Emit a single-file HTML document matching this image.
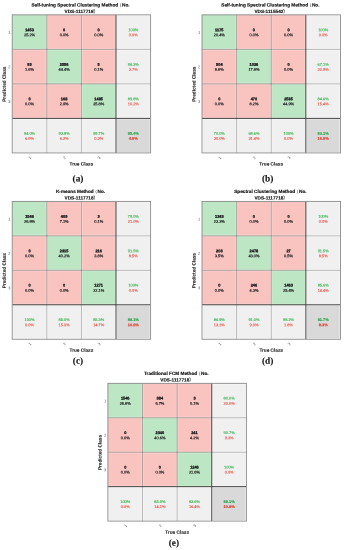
<!DOCTYPE html>
<html><head><meta charset="utf-8"><title>Confusion matrices</title>
<style>
html,body{margin:0;padding:0;background:#fff;}
svg{display:block}
text{font-family:"Liberation Sans","Noto Sans CJK SC",sans-serif;fill:#111;text-anchor:middle;text-rendering:geometricPrecision}
.t{font-size:4.7px;font-weight:bold;stroke:#111;stroke-width:0.15px}
.fp{font-size:3.9px;font-weight:normal;stroke-width:0.05px}
.n{font-size:3.9px;font-weight:bold;stroke:#111;stroke-width:0.25px}
.p{font-size:3.9px;stroke:#111;stroke-width:0.16px}
.k{font-size:4px;fill:#555}
.a{font-size:4.7px;font-weight:bold;fill:#222;stroke:#222;stroke-width:0.1px}
.l{font-family:"Liberation Serif",serif;font-size:9.4px;font-weight:bold;fill:#111;stroke:#111;stroke-width:.1px}
</style></head><body>
<svg width="344" height="550" viewBox="0 0 344 550">
<rect width="344" height="550" fill="#fff"/>
<g>
<text class="t" transform="translate(80.55,6.45) matrix(1,.001,0,1,0,0)">Self-tuning Spectral Clustering Method<tspan class="fp" dx="-0.6">（</tspan><tspan dx="0.6">No.</tspan></text>
<text class="t" transform="translate(81.4,12.9) matrix(1,.001,0,1,0,0)">VDS-1117718<tspan class="fp" style="font-size:4.7px">）</tspan></text>
<rect x="12.2" y="14.85" width="138.4" height="138.05" fill="#fff"/>
<rect x="12.2" y="14.85" width="34.6" height="34.51" fill="#bce6c4"/>
<rect x="46.8" y="14.85" width="34.6" height="34.51" fill="#f9c4c0"/>
<rect x="81.4" y="14.85" width="34.6" height="34.51" fill="#f9c4c0"/>
<rect x="116.85" y="15.7" width="32.9" height="32.81" fill="#f0f0f0"/>
<rect x="12.2" y="49.36" width="34.6" height="34.51" fill="#f9c4c0"/>
<rect x="46.8" y="49.36" width="34.6" height="34.51" fill="#bce6c4"/>
<rect x="81.4" y="49.36" width="34.6" height="34.51" fill="#f9c4c0"/>
<rect x="116.85" y="50.21" width="32.9" height="32.81" fill="#f0f0f0"/>
<rect x="12.2" y="83.88" width="34.6" height="34.51" fill="#f9c4c0"/>
<rect x="46.8" y="83.88" width="34.6" height="34.51" fill="#f9c4c0"/>
<rect x="81.4" y="83.88" width="34.6" height="34.51" fill="#bce6c4"/>
<rect x="116.85" y="84.72" width="32.9" height="32.81" fill="#f0f0f0"/>
<rect x="13.05" y="119.24" width="32.9" height="32.81" fill="#f0f0f0"/>
<rect x="47.65" y="119.24" width="32.9" height="32.81" fill="#f0f0f0"/>
<rect x="82.25" y="119.24" width="32.9" height="32.81" fill="#f0f0f0"/>
<rect x="116.85" y="119.24" width="32.9" height="32.81" fill="#d9d9d9"/>
<path d="M46.8 14.85V118.39M12.2 49.36H116" stroke="#fff" stroke-opacity=".22" stroke-width="2.6" fill="none"/>
<path d="M81.4 14.85V118.39M12.2 83.88H116" stroke="#fff" stroke-opacity=".22" stroke-width="2.6" fill="none"/>
<path d="M116 14.85V118.39M12.2 118.39H116" stroke="#fff" stroke-opacity=".22" stroke-width="2.6" fill="none"/>
<line x1="46.8" y1="14.85" x2="46.8" y2="152.9" stroke="#505050" stroke-width="0.42"/>
<line x1="12.2" y1="49.36" x2="150.6" y2="49.36" stroke="#505050" stroke-width="0.42"/>
<line x1="81.4" y1="14.85" x2="81.4" y2="152.9" stroke="#505050" stroke-width="0.42"/>
<line x1="12.2" y1="83.88" x2="150.6" y2="83.88" stroke="#505050" stroke-width="0.42"/>
<line x1="116" y1="14.85" x2="116" y2="152.9" stroke="#404040" stroke-width="1"/>
<line x1="12.2" y1="118.39" x2="150.6" y2="118.39" stroke="#404040" stroke-width="1"/>
<rect x="12.2" y="14.85" width="138.4" height="138.05" fill="none" stroke="#8a8a8a" stroke-width="0.9"/>
<text class="n" transform="translate(29.5,31.16) matrix(1,.001,0,1,0,0)">1453</text>
<text class="p" transform="translate(29.5,36.26) matrix(1,.001,0,1,0,0)">25.2%</text>
<text class="n" transform="translate(64.1,31.16) matrix(1,.001,0,1,0,0)">0</text>
<text class="p" transform="translate(64.1,36.26) matrix(1,.001,0,1,0,0)">0.0%</text>
<text class="n" transform="translate(98.7,31.16) matrix(1,.001,0,1,0,0)">0</text>
<text class="p" transform="translate(98.7,36.26) matrix(1,.001,0,1,0,0)">0.0%</text>
<text class="p" transform="translate(133.3,31.16) matrix(1,.001,0,1,0,0)" style="fill:#22ac3c;stroke:#22ac3c;stroke-width:.08px">100%</text>
<text class="p" transform="translate(133.3,36.26) matrix(1,.001,0,1,0,0)" style="fill:#e23d2d;stroke:#e23d2d;stroke-width:.08px">0.0%</text>
<text class="n" transform="translate(29.5,65.67) matrix(1,.001,0,1,0,0)">93</text>
<text class="p" transform="translate(29.5,70.77) matrix(1,.001,0,1,0,0)">1.6%</text>
<text class="n" transform="translate(64.1,65.67) matrix(1,.001,0,1,0,0)">2556</text>
<text class="p" transform="translate(64.1,70.77) matrix(1,.001,0,1,0,0)">44.4%</text>
<text class="n" transform="translate(98.7,65.67) matrix(1,.001,0,1,0,0)">5</text>
<text class="p" transform="translate(98.7,70.77) matrix(1,.001,0,1,0,0)">0.1%</text>
<text class="p" transform="translate(133.3,65.67) matrix(1,.001,0,1,0,0)" style="fill:#22ac3c;stroke:#22ac3c;stroke-width:.08px">96.3%</text>
<text class="p" transform="translate(133.3,70.77) matrix(1,.001,0,1,0,0)" style="fill:#e23d2d;stroke:#e23d2d;stroke-width:.08px">3.7%</text>
<text class="n" transform="translate(29.5,100.18) matrix(1,.001,0,1,0,0)">0</text>
<text class="p" transform="translate(29.5,105.28) matrix(1,.001,0,1,0,0)">0.0%</text>
<text class="n" transform="translate(64.1,100.18) matrix(1,.001,0,1,0,0)">168</text>
<text class="p" transform="translate(64.1,105.28) matrix(1,.001,0,1,0,0)">2.9%</text>
<text class="n" transform="translate(98.7,100.18) matrix(1,.001,0,1,0,0)">1485</text>
<text class="p" transform="translate(98.7,105.28) matrix(1,.001,0,1,0,0)">25.8%</text>
<text class="p" transform="translate(133.3,100.18) matrix(1,.001,0,1,0,0)" style="fill:#22ac3c;stroke:#22ac3c;stroke-width:.08px">89.8%</text>
<text class="p" transform="translate(133.3,105.28) matrix(1,.001,0,1,0,0)" style="fill:#e23d2d;stroke:#e23d2d;stroke-width:.08px">10.2%</text>
<text class="p" transform="translate(29.5,134.69) matrix(1,.001,0,1,0,0)" style="fill:#22ac3c;stroke:#22ac3c;stroke-width:.08px">94.0%</text>
<text class="p" transform="translate(29.5,139.79) matrix(1,.001,0,1,0,0)" style="fill:#e23d2d;stroke:#e23d2d;stroke-width:.08px">6.0%</text>
<text class="p" transform="translate(64.1,134.69) matrix(1,.001,0,1,0,0)" style="fill:#22ac3c;stroke:#22ac3c;stroke-width:.08px">93.8%</text>
<text class="p" transform="translate(64.1,139.79) matrix(1,.001,0,1,0,0)" style="fill:#e23d2d;stroke:#e23d2d;stroke-width:.08px">6.2%</text>
<text class="p" transform="translate(98.7,134.69) matrix(1,.001,0,1,0,0)" style="fill:#22ac3c;stroke:#22ac3c;stroke-width:.08px">99.7%</text>
<text class="p" transform="translate(98.7,139.79) matrix(1,.001,0,1,0,0)" style="fill:#e23d2d;stroke:#e23d2d;stroke-width:.08px">0.3%</text>
<text class="n" transform="translate(133.3,134.69) matrix(1,.001,0,1,0,0)" style="fill:#259f44;stroke:#259f44;stroke-width:.1px">95.4%</text>
<text class="n" transform="translate(133.3,139.79) matrix(1,.001,0,1,0,0)" style="fill:#e03222;stroke:#e03222;stroke-width:.1px">4.6%</text>
<text class="k" transform="translate(9.3,33.86) matrix(1,.001,0,1,0,0)">1</text>
<text class="k" transform="translate(31.7,157.8) rotate(-45) matrix(1,.001,0,1,0,0)" style="text-anchor:end">1</text>
<text class="k" transform="translate(9.3,68.37) matrix(1,.001,0,1,0,0)">2</text>
<text class="k" transform="translate(66.3,157.8) rotate(-45) matrix(1,.001,0,1,0,0)" style="text-anchor:end">2</text>
<text class="k" transform="translate(9.3,102.88) matrix(1,.001,0,1,0,0)">3</text>
<text class="k" transform="translate(100.9,157.8) rotate(-45) matrix(1,.001,0,1,0,0)" style="text-anchor:end">3</text>
<text class="a" transform="translate(81.4,165.5) matrix(1,.001,0,1,0,0)">True Class</text>
<text class="a" transform="translate(5.8,84.17) rotate(-90) matrix(1,.001,0,1,0,0)">Predicted Class</text>
<text class="l" transform="translate(78,181.6) matrix(1,.001,0,1,0,0)">(a)</text>
</g>
<g>
<text class="t" transform="translate(270.38,6.45) matrix(1,.001,0,1,0,0)">Self-tuning Spectral Clustering Method<tspan class="fp" dx="-0.6">（</tspan><tspan dx="0.6">No.</tspan></text>
<text class="t" transform="translate(271.23,12.9) matrix(1,.001,0,1,0,0)">VDS-1115542<tspan class="fp" style="font-size:4.7px">）</tspan></text>
<rect x="202" y="14.85" width="138.45" height="138.05" fill="#fff"/>
<rect x="202" y="14.85" width="34.61" height="34.51" fill="#bce6c4"/>
<rect x="236.61" y="14.85" width="34.61" height="34.51" fill="#f9c4c0"/>
<rect x="271.23" y="14.85" width="34.61" height="34.51" fill="#f9c4c0"/>
<rect x="306.69" y="15.7" width="32.91" height="32.81" fill="#f0f0f0"/>
<rect x="202" y="49.36" width="34.61" height="34.51" fill="#f9c4c0"/>
<rect x="236.61" y="49.36" width="34.61" height="34.51" fill="#bce6c4"/>
<rect x="271.23" y="49.36" width="34.61" height="34.51" fill="#f9c4c0"/>
<rect x="306.69" y="50.21" width="32.91" height="32.81" fill="#f0f0f0"/>
<rect x="202" y="83.88" width="34.61" height="34.51" fill="#f9c4c0"/>
<rect x="236.61" y="83.88" width="34.61" height="34.51" fill="#f9c4c0"/>
<rect x="271.23" y="83.88" width="34.61" height="34.51" fill="#bce6c4"/>
<rect x="306.69" y="84.72" width="32.91" height="32.81" fill="#f0f0f0"/>
<rect x="202.85" y="119.24" width="32.91" height="32.81" fill="#f0f0f0"/>
<rect x="237.46" y="119.24" width="32.91" height="32.81" fill="#f0f0f0"/>
<rect x="272.08" y="119.24" width="32.91" height="32.81" fill="#f0f0f0"/>
<rect x="306.69" y="119.24" width="32.91" height="32.81" fill="#d9d9d9"/>
<path d="M236.61 14.85V118.39M202 49.36H305.84" stroke="#fff" stroke-opacity=".22" stroke-width="2.6" fill="none"/>
<path d="M271.23 14.85V118.39M202 83.88H305.84" stroke="#fff" stroke-opacity=".22" stroke-width="2.6" fill="none"/>
<path d="M305.84 14.85V118.39M202 118.39H305.84" stroke="#fff" stroke-opacity=".22" stroke-width="2.6" fill="none"/>
<line x1="236.61" y1="14.85" x2="236.61" y2="152.9" stroke="#505050" stroke-width="0.42"/>
<line x1="202" y1="49.36" x2="340.45" y2="49.36" stroke="#505050" stroke-width="0.42"/>
<line x1="271.23" y1="14.85" x2="271.23" y2="152.9" stroke="#505050" stroke-width="0.42"/>
<line x1="202" y1="83.88" x2="340.45" y2="83.88" stroke="#505050" stroke-width="0.42"/>
<line x1="305.84" y1="14.85" x2="305.84" y2="152.9" stroke="#404040" stroke-width="1"/>
<line x1="202" y1="118.39" x2="340.45" y2="118.39" stroke="#404040" stroke-width="1"/>
<rect x="202" y="14.85" width="138.45" height="138.05" fill="none" stroke="#8a8a8a" stroke-width="0.9"/>
<text class="n" transform="translate(219.31,31.16) matrix(1,.001,0,1,0,0)">1175</text>
<text class="p" transform="translate(219.31,36.26) matrix(1,.001,0,1,0,0)">20.4%</text>
<text class="n" transform="translate(253.92,31.16) matrix(1,.001,0,1,0,0)">0</text>
<text class="p" transform="translate(253.92,36.26) matrix(1,.001,0,1,0,0)">0.0%</text>
<text class="n" transform="translate(288.53,31.16) matrix(1,.001,0,1,0,0)">0</text>
<text class="p" transform="translate(288.53,36.26) matrix(1,.001,0,1,0,0)">0.0%</text>
<text class="p" transform="translate(323.14,31.16) matrix(1,.001,0,1,0,0)" style="fill:#22ac3c;stroke:#22ac3c;stroke-width:.08px">100%</text>
<text class="p" transform="translate(323.14,36.26) matrix(1,.001,0,1,0,0)" style="fill:#e23d2d;stroke:#e23d2d;stroke-width:.08px">0.0%</text>
<text class="n" transform="translate(219.31,65.67) matrix(1,.001,0,1,0,0)">504</text>
<text class="p" transform="translate(219.31,70.77) matrix(1,.001,0,1,0,0)">8.8%</text>
<text class="n" transform="translate(253.92,65.67) matrix(1,.001,0,1,0,0)">1026</text>
<text class="p" transform="translate(253.92,70.77) matrix(1,.001,0,1,0,0)">17.8%</text>
<text class="n" transform="translate(288.53,65.67) matrix(1,.001,0,1,0,0)">0</text>
<text class="p" transform="translate(288.53,70.77) matrix(1,.001,0,1,0,0)">0.0%</text>
<text class="p" transform="translate(323.14,65.67) matrix(1,.001,0,1,0,0)" style="fill:#22ac3c;stroke:#22ac3c;stroke-width:.08px">67.1%</text>
<text class="p" transform="translate(323.14,70.77) matrix(1,.001,0,1,0,0)" style="fill:#e23d2d;stroke:#e23d2d;stroke-width:.08px">32.9%</text>
<text class="n" transform="translate(219.31,100.18) matrix(1,.001,0,1,0,0)">0</text>
<text class="p" transform="translate(219.31,105.28) matrix(1,.001,0,1,0,0)">0.0%</text>
<text class="n" transform="translate(253.92,100.18) matrix(1,.001,0,1,0,0)">470</text>
<text class="p" transform="translate(253.92,105.28) matrix(1,.001,0,1,0,0)">8.2%</text>
<text class="n" transform="translate(288.53,100.18) matrix(1,.001,0,1,0,0)">2585</text>
<text class="p" transform="translate(288.53,105.28) matrix(1,.001,0,1,0,0)">44.9%</text>
<text class="p" transform="translate(323.14,100.18) matrix(1,.001,0,1,0,0)" style="fill:#22ac3c;stroke:#22ac3c;stroke-width:.08px">84.6%</text>
<text class="p" transform="translate(323.14,105.28) matrix(1,.001,0,1,0,0)" style="fill:#e23d2d;stroke:#e23d2d;stroke-width:.08px">15.4%</text>
<text class="p" transform="translate(219.31,134.69) matrix(1,.001,0,1,0,0)" style="fill:#22ac3c;stroke:#22ac3c;stroke-width:.08px">70.0%</text>
<text class="p" transform="translate(219.31,139.79) matrix(1,.001,0,1,0,0)" style="fill:#e23d2d;stroke:#e23d2d;stroke-width:.08px">30.0%</text>
<text class="p" transform="translate(253.92,134.69) matrix(1,.001,0,1,0,0)" style="fill:#22ac3c;stroke:#22ac3c;stroke-width:.08px">68.6%</text>
<text class="p" transform="translate(253.92,139.79) matrix(1,.001,0,1,0,0)" style="fill:#e23d2d;stroke:#e23d2d;stroke-width:.08px">31.4%</text>
<text class="p" transform="translate(288.53,134.69) matrix(1,.001,0,1,0,0)" style="fill:#22ac3c;stroke:#22ac3c;stroke-width:.08px">100%</text>
<text class="p" transform="translate(288.53,139.79) matrix(1,.001,0,1,0,0)" style="fill:#e23d2d;stroke:#e23d2d;stroke-width:.08px">0.0%</text>
<text class="n" transform="translate(323.14,134.69) matrix(1,.001,0,1,0,0)" style="fill:#259f44;stroke:#259f44;stroke-width:.1px">83.1%</text>
<text class="n" transform="translate(323.14,139.79) matrix(1,.001,0,1,0,0)" style="fill:#e03222;stroke:#e03222;stroke-width:.1px">16.9%</text>
<text class="k" transform="translate(199.1,33.86) matrix(1,.001,0,1,0,0)">1</text>
<text class="k" transform="translate(221.51,157.8) rotate(-45) matrix(1,.001,0,1,0,0)" style="text-anchor:end">1</text>
<text class="k" transform="translate(199.1,68.37) matrix(1,.001,0,1,0,0)">2</text>
<text class="k" transform="translate(256.12,157.8) rotate(-45) matrix(1,.001,0,1,0,0)" style="text-anchor:end">2</text>
<text class="k" transform="translate(199.1,102.88) matrix(1,.001,0,1,0,0)">3</text>
<text class="k" transform="translate(290.73,157.8) rotate(-45) matrix(1,.001,0,1,0,0)" style="text-anchor:end">3</text>
<text class="a" transform="translate(271.23,165.5) matrix(1,.001,0,1,0,0)">True Class</text>
<text class="a" transform="translate(195.6,84.17) rotate(-90) matrix(1,.001,0,1,0,0)">Predicted Class</text>
<text class="l" transform="translate(267.7,181.6) matrix(1,.001,0,1,0,0)">(b)</text>
</g>
<g>
<text class="t" transform="translate(80.55,193) matrix(1,.001,0,1,0,0)">K-means Method<tspan class="fp" dx="-0.6">（</tspan><tspan dx="0.6">No.</tspan></text>
<text class="t" transform="translate(81.4,199.45) matrix(1,.001,0,1,0,0)">VDS-1117718<tspan class="fp" style="font-size:4.7px">）</tspan></text>
<rect x="12.2" y="201.4" width="138.4" height="137.85" fill="#fff"/>
<rect x="12.2" y="201.4" width="34.6" height="34.46" fill="#bce6c4"/>
<rect x="46.8" y="201.4" width="34.6" height="34.46" fill="#f9c4c0"/>
<rect x="81.4" y="201.4" width="34.6" height="34.46" fill="#f9c4c0"/>
<rect x="116.85" y="202.25" width="32.9" height="32.76" fill="#f0f0f0"/>
<rect x="12.2" y="235.86" width="34.6" height="34.46" fill="#f9c4c0"/>
<rect x="46.8" y="235.86" width="34.6" height="34.46" fill="#bce6c4"/>
<rect x="81.4" y="235.86" width="34.6" height="34.46" fill="#f9c4c0"/>
<rect x="116.85" y="236.71" width="32.9" height="32.76" fill="#f0f0f0"/>
<rect x="12.2" y="270.32" width="34.6" height="34.46" fill="#f9c4c0"/>
<rect x="46.8" y="270.32" width="34.6" height="34.46" fill="#f9c4c0"/>
<rect x="81.4" y="270.32" width="34.6" height="34.46" fill="#bce6c4"/>
<rect x="116.85" y="271.18" width="32.9" height="32.76" fill="#f0f0f0"/>
<rect x="13.05" y="305.64" width="32.9" height="32.76" fill="#f0f0f0"/>
<rect x="47.65" y="305.64" width="32.9" height="32.76" fill="#f0f0f0"/>
<rect x="82.25" y="305.64" width="32.9" height="32.76" fill="#f0f0f0"/>
<rect x="116.85" y="305.64" width="32.9" height="32.76" fill="#d9d9d9"/>
<path d="M46.8 201.4V304.79M12.2 235.86H116" stroke="#fff" stroke-opacity=".22" stroke-width="2.6" fill="none"/>
<path d="M81.4 201.4V304.79M12.2 270.32H116" stroke="#fff" stroke-opacity=".22" stroke-width="2.6" fill="none"/>
<path d="M116 201.4V304.79M12.2 304.79H116" stroke="#fff" stroke-opacity=".22" stroke-width="2.6" fill="none"/>
<line x1="46.8" y1="201.4" x2="46.8" y2="339.25" stroke="#505050" stroke-width="0.42"/>
<line x1="12.2" y1="235.86" x2="150.6" y2="235.86" stroke="#505050" stroke-width="0.42"/>
<line x1="81.4" y1="201.4" x2="81.4" y2="339.25" stroke="#505050" stroke-width="0.42"/>
<line x1="12.2" y1="270.32" x2="150.6" y2="270.32" stroke="#505050" stroke-width="0.42"/>
<line x1="116" y1="201.4" x2="116" y2="339.25" stroke="#404040" stroke-width="1"/>
<line x1="12.2" y1="304.79" x2="150.6" y2="304.79" stroke="#404040" stroke-width="1"/>
<rect x="12.2" y="201.4" width="138.4" height="137.85" fill="none" stroke="#8a8a8a" stroke-width="0.9"/>
<text class="n" transform="translate(29.5,217.68) matrix(1,.001,0,1,0,0)">1546</text>
<text class="p" transform="translate(29.5,222.78) matrix(1,.001,0,1,0,0)">26.8%</text>
<text class="n" transform="translate(64.1,217.68) matrix(1,.001,0,1,0,0)">409</text>
<text class="p" transform="translate(64.1,222.78) matrix(1,.001,0,1,0,0)">7.1%</text>
<text class="n" transform="translate(98.7,217.68) matrix(1,.001,0,1,0,0)">3</text>
<text class="p" transform="translate(98.7,222.78) matrix(1,.001,0,1,0,0)">0.1%</text>
<text class="p" transform="translate(133.3,217.68) matrix(1,.001,0,1,0,0)" style="fill:#22ac3c;stroke:#22ac3c;stroke-width:.08px">79.0%</text>
<text class="p" transform="translate(133.3,222.78) matrix(1,.001,0,1,0,0)" style="fill:#e23d2d;stroke:#e23d2d;stroke-width:.08px">21.0%</text>
<text class="n" transform="translate(29.5,252.14) matrix(1,.001,0,1,0,0)">0</text>
<text class="p" transform="translate(29.5,257.24) matrix(1,.001,0,1,0,0)">0.0%</text>
<text class="n" transform="translate(64.1,252.14) matrix(1,.001,0,1,0,0)">2315</text>
<text class="p" transform="translate(64.1,257.24) matrix(1,.001,0,1,0,0)">40.2%</text>
<text class="n" transform="translate(98.7,252.14) matrix(1,.001,0,1,0,0)">216</text>
<text class="p" transform="translate(98.7,257.24) matrix(1,.001,0,1,0,0)">3.8%</text>
<text class="p" transform="translate(133.3,252.14) matrix(1,.001,0,1,0,0)" style="fill:#22ac3c;stroke:#22ac3c;stroke-width:.08px">91.5%</text>
<text class="p" transform="translate(133.3,257.24) matrix(1,.001,0,1,0,0)" style="fill:#e23d2d;stroke:#e23d2d;stroke-width:.08px">8.5%</text>
<text class="n" transform="translate(29.5,286.61) matrix(1,.001,0,1,0,0)">0</text>
<text class="p" transform="translate(29.5,291.71) matrix(1,.001,0,1,0,0)">0.0%</text>
<text class="n" transform="translate(64.1,286.61) matrix(1,.001,0,1,0,0)">0</text>
<text class="p" transform="translate(64.1,291.71) matrix(1,.001,0,1,0,0)">0.0%</text>
<text class="n" transform="translate(98.7,286.61) matrix(1,.001,0,1,0,0)">1271</text>
<text class="p" transform="translate(98.7,291.71) matrix(1,.001,0,1,0,0)">22.1%</text>
<text class="p" transform="translate(133.3,286.61) matrix(1,.001,0,1,0,0)" style="fill:#22ac3c;stroke:#22ac3c;stroke-width:.08px">100%</text>
<text class="p" transform="translate(133.3,291.71) matrix(1,.001,0,1,0,0)" style="fill:#e23d2d;stroke:#e23d2d;stroke-width:.08px">0.0%</text>
<text class="p" transform="translate(29.5,321.07) matrix(1,.001,0,1,0,0)" style="fill:#22ac3c;stroke:#22ac3c;stroke-width:.08px">100%</text>
<text class="p" transform="translate(29.5,326.17) matrix(1,.001,0,1,0,0)" style="fill:#e23d2d;stroke:#e23d2d;stroke-width:.08px">0.0%</text>
<text class="p" transform="translate(64.1,321.07) matrix(1,.001,0,1,0,0)" style="fill:#22ac3c;stroke:#22ac3c;stroke-width:.08px">85.0%</text>
<text class="p" transform="translate(64.1,326.17) matrix(1,.001,0,1,0,0)" style="fill:#e23d2d;stroke:#e23d2d;stroke-width:.08px">15.0%</text>
<text class="p" transform="translate(98.7,321.07) matrix(1,.001,0,1,0,0)" style="fill:#22ac3c;stroke:#22ac3c;stroke-width:.08px">85.3%</text>
<text class="p" transform="translate(98.7,326.17) matrix(1,.001,0,1,0,0)" style="fill:#e23d2d;stroke:#e23d2d;stroke-width:.08px">14.7%</text>
<text class="n" transform="translate(133.3,321.07) matrix(1,.001,0,1,0,0)" style="fill:#259f44;stroke:#259f44;stroke-width:.1px">89.1%</text>
<text class="n" transform="translate(133.3,326.17) matrix(1,.001,0,1,0,0)" style="fill:#e03222;stroke:#e03222;stroke-width:.1px">10.9%</text>
<text class="k" transform="translate(9.3,220.38) matrix(1,.001,0,1,0,0)">1</text>
<text class="k" transform="translate(31.7,344.15) rotate(-45) matrix(1,.001,0,1,0,0)" style="text-anchor:end">1</text>
<text class="k" transform="translate(9.3,254.84) matrix(1,.001,0,1,0,0)">2</text>
<text class="k" transform="translate(66.3,344.15) rotate(-45) matrix(1,.001,0,1,0,0)" style="text-anchor:end">2</text>
<text class="k" transform="translate(9.3,289.31) matrix(1,.001,0,1,0,0)">3</text>
<text class="k" transform="translate(100.9,344.15) rotate(-45) matrix(1,.001,0,1,0,0)" style="text-anchor:end">3</text>
<text class="a" transform="translate(81.4,351.85) matrix(1,.001,0,1,0,0)">True Class</text>
<text class="a" transform="translate(5.8,270.62) rotate(-90) matrix(1,.001,0,1,0,0)">Predicted Class</text>
<text class="l" transform="translate(78,363.65) matrix(1,.001,0,1,0,0)">(c)</text>
</g>
<g>
<text class="t" transform="translate(270.4,193) matrix(1,.001,0,1,0,0)">Spectral Clustering Method<tspan class="fp" dx="-0.6">（</tspan><tspan dx="0.6">No.</tspan></text>
<text class="t" transform="translate(271.25,199.45) matrix(1,.001,0,1,0,0)">VDS-1117718<tspan class="fp" style="font-size:4.7px">）</tspan></text>
<rect x="202" y="201.4" width="138.5" height="137.85" fill="#fff"/>
<rect x="202" y="201.4" width="34.62" height="34.46" fill="#bce6c4"/>
<rect x="236.62" y="201.4" width="34.62" height="34.46" fill="#f9c4c0"/>
<rect x="271.25" y="201.4" width="34.62" height="34.46" fill="#f9c4c0"/>
<rect x="306.73" y="202.25" width="32.92" height="32.76" fill="#f0f0f0"/>
<rect x="202" y="235.86" width="34.62" height="34.46" fill="#f9c4c0"/>
<rect x="236.62" y="235.86" width="34.62" height="34.46" fill="#bce6c4"/>
<rect x="271.25" y="235.86" width="34.62" height="34.46" fill="#f9c4c0"/>
<rect x="306.73" y="236.71" width="32.92" height="32.76" fill="#f0f0f0"/>
<rect x="202" y="270.32" width="34.62" height="34.46" fill="#f9c4c0"/>
<rect x="236.62" y="270.32" width="34.62" height="34.46" fill="#f9c4c0"/>
<rect x="271.25" y="270.32" width="34.62" height="34.46" fill="#bce6c4"/>
<rect x="306.73" y="271.18" width="32.92" height="32.76" fill="#f0f0f0"/>
<rect x="202.85" y="305.64" width="32.92" height="32.76" fill="#f0f0f0"/>
<rect x="237.47" y="305.64" width="32.92" height="32.76" fill="#f0f0f0"/>
<rect x="272.1" y="305.64" width="32.92" height="32.76" fill="#f0f0f0"/>
<rect x="306.73" y="305.64" width="32.92" height="32.76" fill="#d9d9d9"/>
<path d="M236.62 201.4V304.79M202 235.86H305.88" stroke="#fff" stroke-opacity=".22" stroke-width="2.6" fill="none"/>
<path d="M271.25 201.4V304.79M202 270.32H305.88" stroke="#fff" stroke-opacity=".22" stroke-width="2.6" fill="none"/>
<path d="M305.88 201.4V304.79M202 304.79H305.88" stroke="#fff" stroke-opacity=".22" stroke-width="2.6" fill="none"/>
<line x1="236.62" y1="201.4" x2="236.62" y2="339.25" stroke="#505050" stroke-width="0.42"/>
<line x1="202" y1="235.86" x2="340.5" y2="235.86" stroke="#505050" stroke-width="0.42"/>
<line x1="271.25" y1="201.4" x2="271.25" y2="339.25" stroke="#505050" stroke-width="0.42"/>
<line x1="202" y1="270.32" x2="340.5" y2="270.32" stroke="#505050" stroke-width="0.42"/>
<line x1="305.88" y1="201.4" x2="305.88" y2="339.25" stroke="#404040" stroke-width="1"/>
<line x1="202" y1="304.79" x2="340.5" y2="304.79" stroke="#404040" stroke-width="1"/>
<rect x="202" y="201.4" width="138.5" height="137.85" fill="none" stroke="#8a8a8a" stroke-width="0.9"/>
<text class="n" transform="translate(219.31,217.68) matrix(1,.001,0,1,0,0)">1343</text>
<text class="p" transform="translate(219.31,222.78) matrix(1,.001,0,1,0,0)">23.3%</text>
<text class="n" transform="translate(253.94,217.68) matrix(1,.001,0,1,0,0)">0</text>
<text class="p" transform="translate(253.94,222.78) matrix(1,.001,0,1,0,0)">0.0%</text>
<text class="n" transform="translate(288.56,217.68) matrix(1,.001,0,1,0,0)">0</text>
<text class="p" transform="translate(288.56,222.78) matrix(1,.001,0,1,0,0)">0.0%</text>
<text class="p" transform="translate(323.19,217.68) matrix(1,.001,0,1,0,0)" style="fill:#22ac3c;stroke:#22ac3c;stroke-width:.08px">100%</text>
<text class="p" transform="translate(323.19,222.78) matrix(1,.001,0,1,0,0)" style="fill:#e23d2d;stroke:#e23d2d;stroke-width:.08px">0.0%</text>
<text class="n" transform="translate(219.31,252.14) matrix(1,.001,0,1,0,0)">203</text>
<text class="p" transform="translate(219.31,257.24) matrix(1,.001,0,1,0,0)">3.5%</text>
<text class="n" transform="translate(253.94,252.14) matrix(1,.001,0,1,0,0)">2478</text>
<text class="p" transform="translate(253.94,257.24) matrix(1,.001,0,1,0,0)">43.0%</text>
<text class="n" transform="translate(288.56,252.14) matrix(1,.001,0,1,0,0)">27</text>
<text class="p" transform="translate(288.56,257.24) matrix(1,.001,0,1,0,0)">0.5%</text>
<text class="p" transform="translate(323.19,252.14) matrix(1,.001,0,1,0,0)" style="fill:#22ac3c;stroke:#22ac3c;stroke-width:.08px">91.5%</text>
<text class="p" transform="translate(323.19,257.24) matrix(1,.001,0,1,0,0)" style="fill:#e23d2d;stroke:#e23d2d;stroke-width:.08px">8.5%</text>
<text class="n" transform="translate(219.31,286.61) matrix(1,.001,0,1,0,0)">0</text>
<text class="p" transform="translate(219.31,291.71) matrix(1,.001,0,1,0,0)">0.0%</text>
<text class="n" transform="translate(253.94,286.61) matrix(1,.001,0,1,0,0)">246</text>
<text class="p" transform="translate(253.94,291.71) matrix(1,.001,0,1,0,0)">4.3%</text>
<text class="n" transform="translate(288.56,286.61) matrix(1,.001,0,1,0,0)">1463</text>
<text class="p" transform="translate(288.56,291.71) matrix(1,.001,0,1,0,0)">25.4%</text>
<text class="p" transform="translate(323.19,286.61) matrix(1,.001,0,1,0,0)" style="fill:#22ac3c;stroke:#22ac3c;stroke-width:.08px">85.6%</text>
<text class="p" transform="translate(323.19,291.71) matrix(1,.001,0,1,0,0)" style="fill:#e23d2d;stroke:#e23d2d;stroke-width:.08px">14.4%</text>
<text class="p" transform="translate(219.31,321.07) matrix(1,.001,0,1,0,0)" style="fill:#22ac3c;stroke:#22ac3c;stroke-width:.08px">86.9%</text>
<text class="p" transform="translate(219.31,326.17) matrix(1,.001,0,1,0,0)" style="fill:#e23d2d;stroke:#e23d2d;stroke-width:.08px">13.1%</text>
<text class="p" transform="translate(253.94,321.07) matrix(1,.001,0,1,0,0)" style="fill:#22ac3c;stroke:#22ac3c;stroke-width:.08px">91.0%</text>
<text class="p" transform="translate(253.94,326.17) matrix(1,.001,0,1,0,0)" style="fill:#e23d2d;stroke:#e23d2d;stroke-width:.08px">9.0%</text>
<text class="p" transform="translate(288.56,321.07) matrix(1,.001,0,1,0,0)" style="fill:#22ac3c;stroke:#22ac3c;stroke-width:.08px">98.2%</text>
<text class="p" transform="translate(288.56,326.17) matrix(1,.001,0,1,0,0)" style="fill:#e23d2d;stroke:#e23d2d;stroke-width:.08px">1.8%</text>
<text class="n" transform="translate(323.19,321.07) matrix(1,.001,0,1,0,0)" style="fill:#259f44;stroke:#259f44;stroke-width:.1px">91.7%</text>
<text class="n" transform="translate(323.19,326.17) matrix(1,.001,0,1,0,0)" style="fill:#e03222;stroke:#e03222;stroke-width:.1px">8.3%</text>
<text class="k" transform="translate(199.1,220.38) matrix(1,.001,0,1,0,0)">1</text>
<text class="k" transform="translate(221.51,344.15) rotate(-45) matrix(1,.001,0,1,0,0)" style="text-anchor:end">1</text>
<text class="k" transform="translate(199.1,254.84) matrix(1,.001,0,1,0,0)">2</text>
<text class="k" transform="translate(256.14,344.15) rotate(-45) matrix(1,.001,0,1,0,0)" style="text-anchor:end">2</text>
<text class="k" transform="translate(199.1,289.31) matrix(1,.001,0,1,0,0)">3</text>
<text class="k" transform="translate(290.76,344.15) rotate(-45) matrix(1,.001,0,1,0,0)" style="text-anchor:end">3</text>
<text class="a" transform="translate(271.25,351.85) matrix(1,.001,0,1,0,0)">True Class</text>
<text class="a" transform="translate(195.6,270.62) rotate(-90) matrix(1,.001,0,1,0,0)">Predicted Class</text>
<text class="l" transform="translate(267.7,363.65) matrix(1,.001,0,1,0,0)">(d)</text>
</g>
<g>
<text class="t" transform="translate(176.3,374.95) matrix(1,.001,0,1,0,0)">Traditional FCM Method<tspan class="fp" dx="-0.6">（</tspan><tspan dx="0.6">No.</tspan></text>
<text class="t" transform="translate(177.15,381.4) matrix(1,.001,0,1,0,0)">VDS-1117718<tspan class="fp" style="font-size:4.7px">）</tspan></text>
<rect x="107.9" y="383.35" width="138.5" height="137.75" fill="#fff"/>
<rect x="107.9" y="383.35" width="34.62" height="34.44" fill="#bce6c4"/>
<rect x="142.53" y="383.35" width="34.62" height="34.44" fill="#f9c4c0"/>
<rect x="177.15" y="383.35" width="34.62" height="34.44" fill="#f9c4c0"/>
<rect x="212.62" y="384.2" width="32.92" height="32.74" fill="#f0f0f0"/>
<rect x="107.9" y="417.79" width="34.62" height="34.44" fill="#f9c4c0"/>
<rect x="142.53" y="417.79" width="34.62" height="34.44" fill="#bce6c4"/>
<rect x="177.15" y="417.79" width="34.62" height="34.44" fill="#f9c4c0"/>
<rect x="212.62" y="418.64" width="32.92" height="32.74" fill="#f0f0f0"/>
<rect x="107.9" y="452.23" width="34.62" height="34.44" fill="#f9c4c0"/>
<rect x="142.53" y="452.23" width="34.62" height="34.44" fill="#f9c4c0"/>
<rect x="177.15" y="452.23" width="34.62" height="34.44" fill="#bce6c4"/>
<rect x="212.62" y="453.08" width="32.92" height="32.74" fill="#f0f0f0"/>
<rect x="108.75" y="487.51" width="32.92" height="32.74" fill="#f0f0f0"/>
<rect x="143.38" y="487.51" width="32.92" height="32.74" fill="#f0f0f0"/>
<rect x="178" y="487.51" width="32.92" height="32.74" fill="#f0f0f0"/>
<rect x="212.62" y="487.51" width="32.92" height="32.74" fill="#d9d9d9"/>
<path d="M142.53 383.35V486.66M107.9 417.79H211.78" stroke="#fff" stroke-opacity=".22" stroke-width="2.6" fill="none"/>
<path d="M177.15 383.35V486.66M107.9 452.23H211.78" stroke="#fff" stroke-opacity=".22" stroke-width="2.6" fill="none"/>
<path d="M211.78 383.35V486.66M107.9 486.66H211.78" stroke="#fff" stroke-opacity=".22" stroke-width="2.6" fill="none"/>
<line x1="142.53" y1="383.35" x2="142.53" y2="521.1" stroke="#505050" stroke-width="0.42"/>
<line x1="107.9" y1="417.79" x2="246.4" y2="417.79" stroke="#505050" stroke-width="0.42"/>
<line x1="177.15" y1="383.35" x2="177.15" y2="521.1" stroke="#505050" stroke-width="0.42"/>
<line x1="107.9" y1="452.23" x2="246.4" y2="452.23" stroke="#505050" stroke-width="0.42"/>
<line x1="211.78" y1="383.35" x2="211.78" y2="521.1" stroke="#404040" stroke-width="1"/>
<line x1="107.9" y1="486.66" x2="246.4" y2="486.66" stroke="#404040" stroke-width="1"/>
<rect x="107.9" y="383.35" width="138.5" height="137.75" fill="none" stroke="#8a8a8a" stroke-width="0.9"/>
<text class="n" transform="translate(125.21,399.62) matrix(1,.001,0,1,0,0)">1546</text>
<text class="p" transform="translate(125.21,404.72) matrix(1,.001,0,1,0,0)">26.8%</text>
<text class="n" transform="translate(159.84,399.62) matrix(1,.001,0,1,0,0)">384</text>
<text class="p" transform="translate(159.84,404.72) matrix(1,.001,0,1,0,0)">6.7%</text>
<text class="n" transform="translate(194.46,399.62) matrix(1,.001,0,1,0,0)">3</text>
<text class="p" transform="translate(194.46,404.72) matrix(1,.001,0,1,0,0)">0.1%</text>
<text class="p" transform="translate(229.09,399.62) matrix(1,.001,0,1,0,0)" style="fill:#22ac3c;stroke:#22ac3c;stroke-width:.08px">80.0%</text>
<text class="p" transform="translate(229.09,404.72) matrix(1,.001,0,1,0,0)" style="fill:#e23d2d;stroke:#e23d2d;stroke-width:.08px">20.0%</text>
<text class="n" transform="translate(125.21,434.06) matrix(1,.001,0,1,0,0)">0</text>
<text class="p" transform="translate(125.21,439.16) matrix(1,.001,0,1,0,0)">0.0%</text>
<text class="n" transform="translate(159.84,434.06) matrix(1,.001,0,1,0,0)">2340</text>
<text class="p" transform="translate(159.84,439.16) matrix(1,.001,0,1,0,0)">40.6%</text>
<text class="n" transform="translate(194.46,434.06) matrix(1,.001,0,1,0,0)">241</text>
<text class="p" transform="translate(194.46,439.16) matrix(1,.001,0,1,0,0)">4.2%</text>
<text class="p" transform="translate(229.09,434.06) matrix(1,.001,0,1,0,0)" style="fill:#22ac3c;stroke:#22ac3c;stroke-width:.08px">90.7%</text>
<text class="p" transform="translate(229.09,439.16) matrix(1,.001,0,1,0,0)" style="fill:#e23d2d;stroke:#e23d2d;stroke-width:.08px">9.3%</text>
<text class="n" transform="translate(125.21,468.49) matrix(1,.001,0,1,0,0)">0</text>
<text class="p" transform="translate(125.21,473.59) matrix(1,.001,0,1,0,0)">0.0%</text>
<text class="n" transform="translate(159.84,468.49) matrix(1,.001,0,1,0,0)">0</text>
<text class="p" transform="translate(159.84,473.59) matrix(1,.001,0,1,0,0)">0.0%</text>
<text class="n" transform="translate(194.46,468.49) matrix(1,.001,0,1,0,0)">1246</text>
<text class="p" transform="translate(194.46,473.59) matrix(1,.001,0,1,0,0)">21.6%</text>
<text class="p" transform="translate(229.09,468.49) matrix(1,.001,0,1,0,0)" style="fill:#22ac3c;stroke:#22ac3c;stroke-width:.08px">100%</text>
<text class="p" transform="translate(229.09,473.59) matrix(1,.001,0,1,0,0)" style="fill:#e23d2d;stroke:#e23d2d;stroke-width:.08px">0.0%</text>
<text class="p" transform="translate(125.21,502.93) matrix(1,.001,0,1,0,0)" style="fill:#22ac3c;stroke:#22ac3c;stroke-width:.08px">100%</text>
<text class="p" transform="translate(125.21,508.03) matrix(1,.001,0,1,0,0)" style="fill:#e23d2d;stroke:#e23d2d;stroke-width:.08px">0.0%</text>
<text class="p" transform="translate(159.84,502.93) matrix(1,.001,0,1,0,0)" style="fill:#22ac3c;stroke:#22ac3c;stroke-width:.08px">85.9%</text>
<text class="p" transform="translate(159.84,508.03) matrix(1,.001,0,1,0,0)" style="fill:#e23d2d;stroke:#e23d2d;stroke-width:.08px">14.1%</text>
<text class="p" transform="translate(194.46,502.93) matrix(1,.001,0,1,0,0)" style="fill:#22ac3c;stroke:#22ac3c;stroke-width:.08px">83.6%</text>
<text class="p" transform="translate(194.46,508.03) matrix(1,.001,0,1,0,0)" style="fill:#e23d2d;stroke:#e23d2d;stroke-width:.08px">16.4%</text>
<text class="n" transform="translate(229.09,502.93) matrix(1,.001,0,1,0,0)" style="fill:#259f44;stroke:#259f44;stroke-width:.1px">89.1%</text>
<text class="n" transform="translate(229.09,508.03) matrix(1,.001,0,1,0,0)" style="fill:#e03222;stroke:#e03222;stroke-width:.1px">10.9%</text>
<text class="k" transform="translate(105,402.32) matrix(1,.001,0,1,0,0)">1</text>
<text class="k" transform="translate(127.41,526) rotate(-45) matrix(1,.001,0,1,0,0)" style="text-anchor:end">1</text>
<text class="k" transform="translate(105,436.76) matrix(1,.001,0,1,0,0)">2</text>
<text class="k" transform="translate(162.04,526) rotate(-45) matrix(1,.001,0,1,0,0)" style="text-anchor:end">2</text>
<text class="k" transform="translate(105,471.19) matrix(1,.001,0,1,0,0)">3</text>
<text class="k" transform="translate(196.66,526) rotate(-45) matrix(1,.001,0,1,0,0)" style="text-anchor:end">3</text>
<text class="a" transform="translate(177.15,533.7) matrix(1,.001,0,1,0,0)">True Class</text>
<text class="a" transform="translate(101.5,452.53) rotate(-90) matrix(1,.001,0,1,0,0)">Predicted Class</text>
<text class="l" transform="translate(173.9,545.8) matrix(1,.001,0,1,0,0)">(e)</text>
</g>
</svg>
</body></html>
